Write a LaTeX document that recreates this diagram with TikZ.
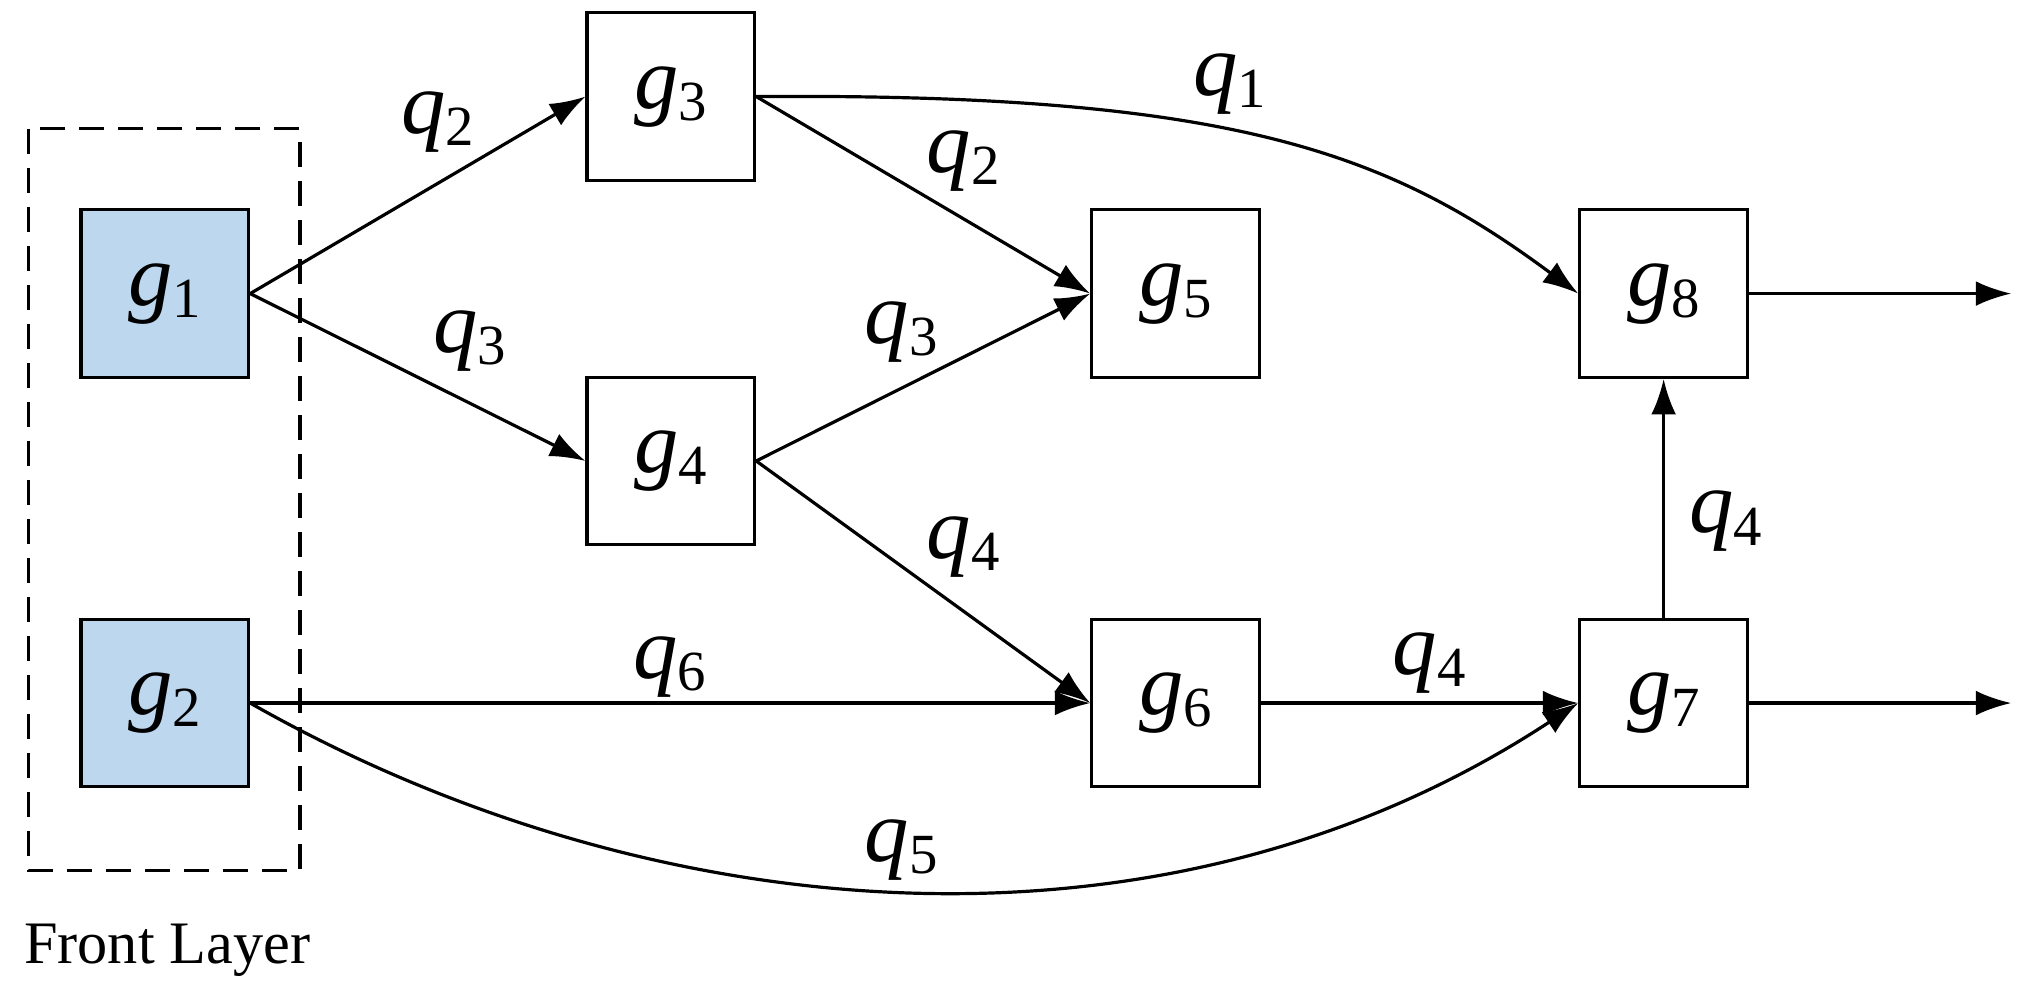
\documentclass[tikz,border=0pt]{standalone}
\usepackage{fontspec}
\setmainfont{Liberation Serif}
\usetikzlibrary{arrows.meta}
\newcommand{\gv}[2]{\textit{#1}\raisebox{-0.3ex}{\fontsize{16}{18}\selectfont #2}}
\begin{document}
\begin{tikzpicture}
            [x=0.01276cm, y=-0.01276cm,
            every node/.style={font=\fontsize{25}{27}\selectfont},
            gate/.style={draw, line width=0.9pt, minimum size=1.66cm, inner sep=0pt},
            front/.style={gate, fill={rgb,255:red,189;green,215;blue,238}},
            flow/.style={draw, line width=0.9pt, -{Latex[length=10pt,width=7pt]}}]

            \useasboundingbox (0,0) rectangle (1568,773);
            \draw[line width=0.9pt, dash pattern=on 7pt off 4pt] (22,100) rectangle (233,676);
            \node[font=\fontsize{17}{20}\selectfont] (lay) at (130,738) {Front Layer};

            \node[front] (g1) at (128,228) {\gv{g}{1}};
            \node[front] (g2) at (128,546) {\gv{g}{2}};
            \node[gate] (g3) at (521,75) {\gv{g}{3}};
            \node[gate] (g4) at (521,358) {\gv{g}{4}};
            \node[gate] (g5) at (913,228) {\gv{g}{5}};
            \node[gate] (g6) at (913,546) {\gv{g}{6}};
            \node[gate] (g7) at (1292,546) {\gv{g}{7}};
            \node[gate] (g8) at (1292,228) {\gv{g}{8}};
            \coordinate (out8) at (1562,228);
            \coordinate (out7) at (1562,546);

            \draw[flow] (g1.east) -- (g3.west);
            \draw[flow] (g1.east) -- (g4.west);
            \draw[flow] (g3.east) -- (g5.west);
            \draw[flow] (g4.east) -- (g5.west);
            \draw[flow] (g4.east) -- (g6.west);
            \draw[flow] (g2.east) -- (g6.west);
            \draw[flow] (g6.east) -- (g7.west);
            \draw[flow] (g7.north) -- (g8.south);
            \draw[flow] (g3.east) .. controls (960,72) and (1080,120) .. (g8.west);
            \draw[flow] (g2.east) .. controls (500,720) and (900,760) .. (g7.west);
            \draw[flow] (g8.east) -- (out8);
            \draw[flow] (g7.east) -- (out7);

            \node (l1) at (340,95) {\gv{q}{2}};
            \node (l2) at (365,265) {\gv{q}{3}};
            \node (l3) at (748,125) {\gv{q}{2}};
            \node (l4) at (700,258) {\gv{q}{3}};
            \node (l5) at (748,425) {\gv{q}{4}};
            \node (l6) at (520,518) {\gv{q}{6}};
            \node (l7) at (700,660) {\gv{q}{5}};
            \node (l8) at (1110,515) {\gv{q}{4}};
            \node (l9) at (1340,405) {\gv{q}{4}};
            \node (l10) at (955,65) {\gv{q}{1}};
        \end{tikzpicture}
\end{document}
